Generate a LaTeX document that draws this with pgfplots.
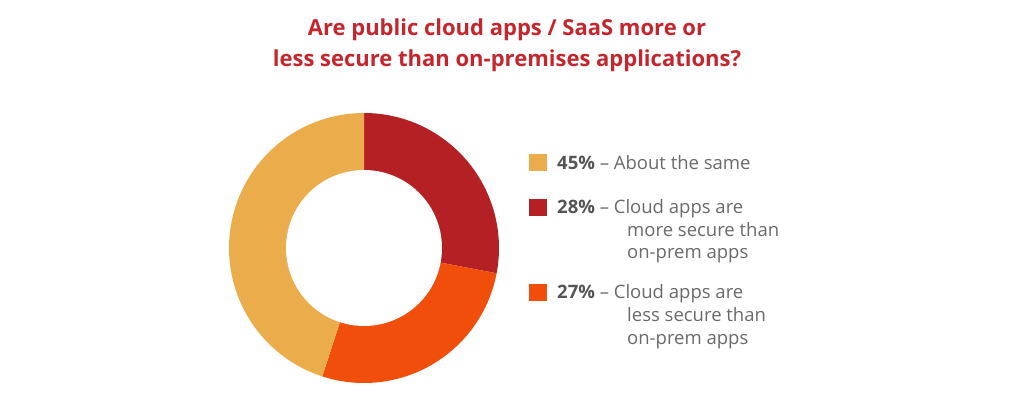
\documentclass[border=0pt]{standalone}
\usepackage{pgfplots}
\usepackage{pgfplotstable}
\pgfplotsset{compat=1.18}
\usepackage{fontspec}
\setmainfont{Open Sans}
\definecolor{cSame}{HTML}{EBAD4B}
\definecolor{cMore}{HTML}{B52025}
\definecolor{cLess}{HTML}{F04E0A}
\definecolor{cTitle}{HTML}{C3272D}
\definecolor{cText}{HTML}{6A6A6A}
\definecolor{cBold}{HTML}{555555}
\pgfplotstableread{
label value
Same 45
More 28
Less 27
}\datatable
\begin{document}
\begin{tikzpicture}
\pgfplotstablegetelem{0}{value}\of\datatable \let\vSame\pgfplotsretval
\pgfplotstablegetelem{1}{value}\of\datatable \let\vMore\pgfplotsretval
\pgfplotstablegetelem{2}{value}\of\datatable \let\vLess\pgfplotsretval
\pgfmathsetmacro{\aA}{90}
\pgfmathsetmacro{\aB}{90-3.6*\vMore}
\pgfmathsetmacro{\aC}{\aB-3.6*\vLess}
\pgfmathsetmacro{\aD}{\aC-3.6*\vSame}
\def\cx{364}\def\cy{163}\def\R{135}\def\r{78}
\begin{axis}[
  x=1bp, y=1bp, xmin=0, xmax=1024, ymin=0, ymax=411,
  hide axis, clip=false, anchor=origin, at={(0,0)},
]
\addplot[fill=cMore, draw=none, domain=\aB:\aA, samples=80]
  ({\cx+\R*cos(x)},{\cy+\R*sin(x)}) -- (axis cs:\cx,\cy) -- cycle;
\addplot[fill=cLess, draw=none, domain=\aC:\aB, samples=80]
  ({\cx+\R*cos(x)},{\cy+\R*sin(x)}) -- (axis cs:\cx,\cy) -- cycle;
\addplot[fill=cSame, draw=none, domain=\aD:\aC, samples=120]
  ({\cx+\R*cos(x)},{\cy+\R*sin(x)}) -- (axis cs:\cx,\cy) -- cycle;
\addplot[fill=white, draw=none, domain=0:360, samples=120]
  ({\cx+\r*cos(x)},{\cy+\r*sin(x)}) -- cycle;
% title
\node[anchor=base, text=cTitle, font=\fontsize{22bp}{25bp}\selectfont\bfseries] at (axis cs:507,375) {Are public cloud apps / SaaS more or};
\node[anchor=base, text=cTitle, font=\fontsize{22bp}{25bp}\selectfont\bfseries] at (axis cs:507,344.3) {less secure than on-premises applications?};
% legend
\fill[cSame] (axis cs:529.3,240.3) rectangle (axis cs:546.7,257);
\fill[cMore] (axis cs:529.3,195) rectangle (axis cs:546.7,212);
\fill[cLess] (axis cs:529.3,110) rectangle (axis cs:546.7,127);
\tikzset{lg/.style={anchor=base west, inner sep=0pt, text=cText, font=\fontsize{18.5bp}{22bp}\selectfont}}
\node[lg] at (axis cs:557,241.7) {{\color{cBold}\bfseries \vSame\%} -- About the same};
\node[lg] at (axis cs:557,197) {{\color{cBold}\bfseries \vMore\%} -- Cloud apps are};
\node[lg] at (axis cs:627,174.3) {more secure than};
\node[lg] at (axis cs:627,152) {on-prem apps};
\node[lg] at (axis cs:557,112.3) {{\color{cBold}\bfseries \vLess\%} -- Cloud apps are};
\node[lg] at (axis cs:627,89.3) {less secure than};
\node[lg] at (axis cs:627,66.3) {on-prem apps};
\end{axis}
\pgfresetboundingbox
\path (0,0) rectangle (1024bp,411bp);
\end{tikzpicture}
\end{document}
